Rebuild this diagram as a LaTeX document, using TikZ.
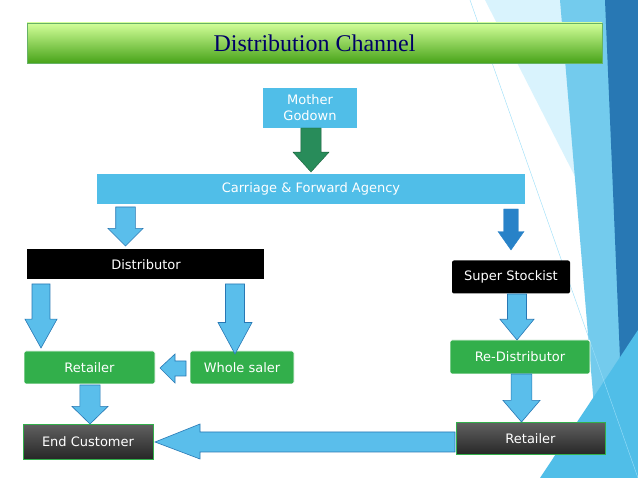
\documentclass[tikz,border=0pt]{standalone}
\usepackage{fontspec}
\setmainfont{DejaVu Sans}
\newfontfamily\titlefont{Liberation Serif}
\definecolor{cbox}{RGB}{80,190,232}
\definecolor{carr}{RGB}{90,190,235}
\definecolor{carrd}{RGB}{40,120,180}
\definecolor{cdark}{RGB}{40,130,200}
\definecolor{cgreen}{RGB}{50,175,75}
\definecolor{cggreen}{RGB}{40,140,90}
\begin{document}
\begin{tikzpicture}[x=1pt,y=-1pt,
  box/.style={draw=none,inner sep=0pt,font=\fontsize{13}{16}\selectfont,text=white},
  blk/.style={fill=black},
  grn/.style={fill=cgreen,draw=white,line width=0.8pt,rounded corners=2pt},
  gry/.style={top color=gray!75!black,bottom color=black!85,draw=cgreen,line width=1pt},
  arr/.style={fill=carr,draw=carrd,line width=0.6pt},
  darr/.style={fill=cdark,draw=cdark},
  garr/.style={fill=cggreen,draw=cggreen!70!black}]
\newcommand\dn[5]{% x1 x2 ytop ybot style
  \pgfmathsetmacro\xa{#1}\pgfmathsetmacro\xb{#2}\pgfmathsetmacro\ya{#3}\pgfmathsetmacro\yb{#4}
  \pgfmathsetmacro\w{\xb-\xa}\pgfmathsetmacro\yh{\yb-0.45*(\yb-\ya)}
  \pgfmathsetmacro\xm{(\xa+\xb)/2}\pgfmathsetmacro\sa{\xa+0.22*\w}\pgfmathsetmacro\sb{\xb-0.22*\w}
  \path[#5] (\sa,\ya)--(\sb,\ya)--(\sb,\yh)--(\xb,\yh)--(\xm,\yb)--(\xa,\yh)--(\sa,\yh)--cycle;}
\useasboundingbox (0,0) rectangle (638,478);
\fill[white] (0,0) rectangle (638,478);
% decoration
\fill[cyan!15] (485,0)--(638,0)--(638,300)--cycle;
\fill[cbox!80] (560,0)--(638,0)--(638,478)--(600,478)--cycle;
\fill[carrd] (605,0)--(638,0)--(638,478)--(625,478)--cycle;
\fill[cbox] (540,478)--(638,330)--(638,478)--cycle;
\draw[cyan!40] (470,0)--(638,478);
% title
\node[top color=green!25!lime!40,bottom color=green!55!lime!60!black!90,draw=green!50!black!60,minimum width=575,minimum height=40,text=blue!40!black,font=\titlefont\fontsize{24}{26}\selectfont] (title) at (314.5,43) {Distribution Channel};
\node[box,fill=cbox,minimum width=94,minimum height=40,align=center] (mg) at (310,108) {Mother\\Godown};
\node[box,fill=cbox,minimum width=428,minimum height=30] (cf) at (311,189) {Carriage \& Forward Agency};
\node[box,blk,minimum width=237,minimum height=30,anchor=north west] (dist) at (27,249) {};
\node[box] (distl) at (146,265) {Distributor};
\node[box,blk,rounded corners=2pt,minimum width=118,minimum height=33] (ss) at (511,277) {Super Stockist};
\node[box,grn,minimum width=131,minimum height=33] (ret1) at (89.5,367.5) {Retailer};
\node[box,grn,minimum width=104,minimum height=33] (ws) at (242,367.5) {Whole saler};
\node[box,grn,minimum width=140,minimum height=34] (rd) at (520,357) {Re-Distributor};
\node[box,gry,minimum width=130,minimum height=35] (ec) at (88,442) {End Customer};
\node[box,gry,minimum width=149,minimum height=32] (ret2) at (530.5,439) {Retailer};
% block arrows
\dn{293}{329}{128}{172}{garr}
\dn{108}{143}{207}{246}{arr}
\dn{498}{524}{209}{250}{darr}
\dn{25}{57}{284}{348}{arr}
\dn{218}{252}{284}{354}{arr}
\dn{500}{534}{294}{340}{arr}
\dn{503}{540}{374}{422}{arr}
\dn{72}{108}{385}{424}{arr}
\path[arr] (186,361)--(175,361)--(175,354)--(160,368)--(175,383)--(175,376)--(186,376)--cycle;
\path[arr] (455,432)--(200,432)--(200,424)--(155,442)--(200,459)--(200,452)--(455,452)--cycle;
\end{tikzpicture}
\end{document}
